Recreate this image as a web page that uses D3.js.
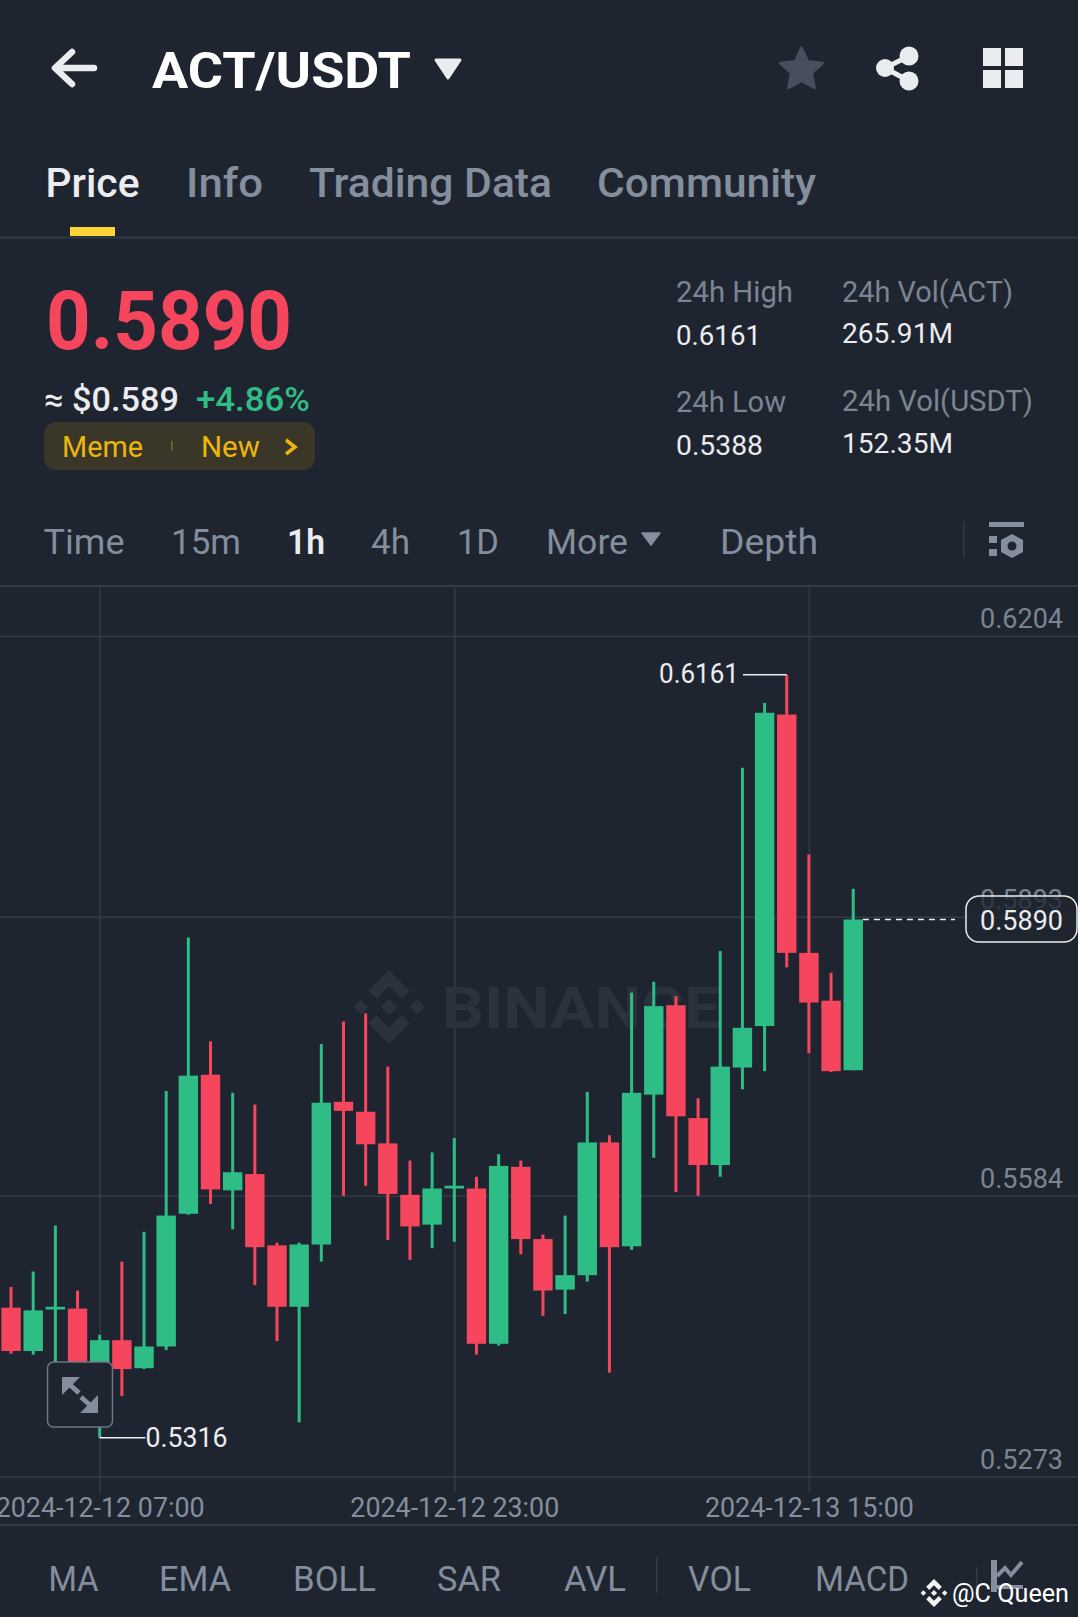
<!DOCTYPE html>
<html>
<head>
<meta charset="utf-8">
<title>ACT/USDT</title>
<script src="https://cdn.jsdelivr.net/npm/d3@7/dist/d3.min.js"></script>
<style>
html,body{margin:0;padding:0;background:#1f2530;}
svg{display:block;}
text{font-family:Roboto,"Noto Sans",sans-serif;}
</style>
</head>
<body>
<div id="chart"></div>
<script>
// 1h candles, first one is 2024-12-12 03:00
var startTime = "2024-12-12T03:00:00Z";
var opens  = [.5460,.5412,.5458,.5459,.5396,.5424,.5393,.5417,.5564,.5718,.5590,.5608,.5529,.5461,.5530,.5688,.5677,.5642,.5585,.5552,.5592,.5592,.5420,.5616,.5536,.5480,.5496,.5643,.5528,.5696,.5795,.5670,.5618,.5726,.5772,.6117,.5853,.5800,.5723];
var highs  = [.5483,.5500,.5551,.5479,.5430,.5511,.5544,.5700,.5870,.5755,.5698,.5685,.5532,.5532,.5752,.5777,.5786,.5727,.5623,.5632,.5648,.5605,.5630,.5623,.5541,.5562,.5699,.5651,.5809,.5821,.5805,.5692,.5855,.6058,.6130,.6161,.5962,.5831,.5924];
var lows   = [.5409,.5408,.5395,.5385,.5316,.5362,.5392,.5413,.5563,.5575,.5547,.5485,.5423,.5333,.5511,.5584,.5595,.5535,.5513,.5526,.5533,.5408,.5418,.5519,.5451,.5453,.5489,.5388,.5524,.5626,.5588,.5584,.5605,.5702,.5722,.5837,.5742,.5721,.5723];
var closes = [.5412,.5457,.5461,.5396,.5424,.5392,.5417,.5562,.5717,.5591,.5610,.5527,.5461,.5530,.5687,.5678,.5641,.5586,.5550,.5592,.5595,.5420,.5617,.5536,.5479,.5496,.5643,.5527,.5698,.5794,.5672,.5618,.5727,.5770,.6119,.5853,.5798,.5722,.5890];

var priceTicks = [.6204,.5893,.5584,.5273];
var dateTicks = ["2024-12-12T07:00:00Z","2024-12-12T23:00:00Z","2024-12-13T15:00:00Z"];
var tabs = ["Price","Info","Trading Data","Community"];
var intervals = ["Time","15m","1h","4h","1D","More","Depth"];
var indicators = ["MA","EMA","BOLL","SAR","AVL","VOL","MACD"];

var lastPrice = .5890, highPrice = .6161, lowPrice = .5316;

var width = 1078, height = 1617;
var bg = "#1f2530", red = "#f6465d", green = "#2ebd85",
    grey = "#848e9c", dim = "#7b8491", white = "#eaecef", line = "#333a46", gold = "#ecb50f";

var svg = d3.select("#chart").append("svg")
    .attr("width",width)
    .attr("height",height);
svg.append("rect").attr("width",width).attr("height",height).attr("fill",bg);

function label(s,x,y,size,color,weight,len,anchor){
    var t = svg.append("text")
        .attr("x",x).attr("y",y)
        .attr("font-size",size)
        .attr("fill",color)
        .attr("font-weight",weight||400)
        .attr("text-anchor",anchor||"start")
        .text(s);
    if(len){
        t.attr("textLength",len).attr("lengthAdjust","spacingAndGlyphs");
    }
    return t;
}

// header
svg.append("path")
    .attr("d","M94,68H56M72,52L55,68L72,84")
    .attr("fill","none").attr("stroke",white).attr("stroke-width",6.5)
    .attr("stroke-linecap","round").attr("stroke-linejoin","round");
label("ACT/USDT",152,88,50,"#fff",700,259);
svg.append("path").attr("d","M436,60H460L448,78Z").attr("fill",white)
    .attr("stroke",white).attr("stroke-width",3).attr("stroke-linejoin","round");

var star = d3.range(10).map(function(i){
    var r = i%2 ? 10.5 : 22, a = i*Math.PI/5;
    return [801.5+r*Math.sin(a),70-r*Math.cos(a)];
});
svg.append("polygon").attr("points",star.join(" ")).attr("fill","#474f5e")
    .attr("stroke","#474f5e").attr("stroke-width",3).attr("stroke-linejoin","round");

svg.append("path").attr("d","M909,56L885,68L909,81").attr("fill","none")
    .attr("stroke",white).attr("stroke-width",5);
[[909,56,9.5],[885,68,9],[909,81,9.5]].forEach(function(c){
    svg.append("circle").attr("cx",c[0]).attr("cy",c[1]).attr("r",c[2]).attr("fill",white);
});
[[983,48],[1005,48],[983,70],[1005,70]].forEach(function(c){
    svg.append("rect").attr("x",c[0]).attr("y",c[1]).attr("width",18).attr("height",18).attr("fill",white);
});

// tabs
var tabX = [45.5,186,309,597], tabLen = [94,77,243,219];
tabs.forEach(function(s,i){
    label(s,tabX[i],196.5,40,i==0?white:grey,500,tabLen[i]);
});
svg.append("rect").attr("x",70).attr("y",227).attr("width",45).attr("height",9).attr("fill","#fcd535");
svg.append("rect").attr("x",0).attr("y",236.5).attr("width",width).attr("height",2).attr("fill",line);

// price block
label(d3.format(".4f")(lastPrice),46,349,82,red,700,246);
label("≈ $0.589",44,411,33,white,500,135);
label("+4.86%",196,411,33,green,500,114);
svg.append("rect").attr("x",44).attr("y",422).attr("width",271).attr("height",48).attr("rx",12)
    .attr("fill","#3a3729");
label("Meme",62,457,29,gold,400,81);
svg.append("rect").attr("x",171).attr("y",441).attr("width",1.5).attr("height",10).attr("fill","#7a6a2a");
label("New",201,457,29,gold,400,59);
svg.append("path").attr("d","M286,440L295,447L286,454").attr("fill","none")
    .attr("stroke",gold).attr("stroke-width",3.5);

label("24h High",676,301.5,29,dim,400,117);
label("24h Vol(ACT)",842,301.5,29,dim,400,171);
label("0.6161",676,345,28,white,400,85);
label("265.91M",842,343,28,white,400,111);
label("24h Low",676,411.5,29,dim,400,110);
label("24h Vol(USDT)",842,410.5,29,dim,400,191);
label("0.5388",676,455,28,white,400,87);
label("152.35M",842,453,28,white,400,111);

// interval row
var intX = [43.5,171,287,371,457,546,720], intLen = [81,70,38,39,42,82,98];
intervals.forEach(function(s,i){
    label(s,intX[i],553.5,35,s=="1h"?white:grey,s=="1h"?600:400,intLen[i]);
});
svg.append("path").attr("d","M642,533H660L651,545Z").attr("fill",grey)
    .attr("stroke",grey).attr("stroke-width",1.5).attr("stroke-linejoin","round");
svg.append("rect").attr("x",963).attr("y",521).attr("width",1.5).attr("height",36).attr("fill",line);
svg.append("rect").attr("x",989).attr("y",522).attr("width",35).attr("height",5).attr("fill",grey);
svg.append("rect").attr("x",989).attr("y",536).attr("width",8).attr("height",7).attr("fill",grey);
svg.append("rect").attr("x",989).attr("y",549).attr("width",8).attr("height",7).attr("fill",grey);
svg.append("path").attr("d","M1012,534L1023,540V552L1012,558L1001,552V540Z").attr("fill",grey);
svg.append("circle").attr("cx",1012).attr("cy",546).attr("r",4.5).attr("fill",bg);

svg.append("rect").attr("x",0).attr("y",585).attr("width",width).attr("height",2).attr("fill",line);

// scales
var x = d3.scaleUtc()
    .domain([new Date(dateTicks[0]),new Date(dateTicks[2])])
    .range([99.7,808.9]);
var y = d3.scaleLinear()
    .domain([priceTicks[3],priceTicks[0]])
    .range([1476.5,636]);

var candles = opens.map(function(o,i){
    return {t:d3.utcHour.offset(new Date(startTime),i),o:o,h:highs[i],l:lows[i],c:closes[i]};
});

// x axis, ticks run all the way up the chart
var xAxis = svg.append("g")
    .attr("transform","translate(0,1493)")
    .call(d3.axisBottom(x)
        .tickValues(dateTicks.map(function(d){return new Date(d);}))
        .tickSize(-907)
        .tickFormat(d3.utcFormat("%Y-%m-%d %H:%M")));
xAxis.select(".domain").remove();
xAxis.selectAll("line").attr("stroke",line).attr("stroke-width",1.5);
xAxis.selectAll("text")
    .attr("y",23.5).attr("dy",0)
    .attr("font-size",27)
    .attr("fill",grey)
    .attr("textLength",209).attr("lengthAdjust","spacingAndGlyphs");

var yAxis = svg.append("g")
    .call(d3.axisRight(y)
        .tickValues(priceTicks)
        .tickSize(width)
        .tickFormat(d3.format(".4f")));
yAxis.select(".domain").remove();
yAxis.selectAll("line").attr("stroke",line).attr("stroke-width",1.5);
yAxis.selectAll("text")
    .attr("x",1063).attr("y",-8.5).attr("dy",0)
    .attr("text-anchor","end")
    .attr("font-size",27)
    .attr("fill",dim)
    .attr("textLength",83).attr("lengthAdjust","spacingAndGlyphs");

svg.append("rect").attr("x",0).attr("y",1524).attr("width",width).attr("height",2).attr("fill",line);

// watermark
function binanceLogo(cx,cy,s,color){
    var g = svg.append("g").attr("transform","translate("+cx+","+cy+") scale("+s+")").attr("fill",color);
    g.append("path").attr("d","M0,-1L.56,-.44L.34,-.22L0,-.56L-.34,-.22L-.56,-.44Z");
    g.append("path").attr("d","M0,1L.56,.44L.34,.22L0,.56L-.34,.22L-.56,.44Z");
    g.append("path").attr("d","M0,-.22L.22,0L0,.22L-.22,0Z");
    g.append("path").attr("d","M-.76,-.2L-.56,0L-.76,.2L-.96,0Z");
    g.append("path").attr("d","M.76,-.2L.96,0L.76,.2L.56,0Z");
}
binanceLogo(389,1007,37,"#2c323c");
label("BINANCE",442,1028,57,"#2c323c",700,279);

// candles
var marks = svg.append("g").selectAll("g").data(candles).enter().append("g");
var bodyW = 19.4;
function col(d){ return d.c>=d.o ? green : red; }
marks.append("rect")
    .attr("x",function(d){return x(d.t)-1.5;})
    .attr("y",function(d){return y(d.h);})
    .attr("width",3)
    .attr("height",function(d){return y(d.l)-y(d.h);})
    .attr("fill",col);
marks.append("rect")
    .attr("x",function(d){return x(d.t)-bodyW/2;})
    .attr("y",function(d){return y(Math.max(d.o,d.c));})
    .attr("width",bodyW)
    .attr("height",function(d){return Math.max(y(Math.min(d.o,d.c))-y(Math.max(d.o,d.c)),2);})
    .attr("fill",col);

// high / low markers
var hi = candles.filter(function(d){return d.h==highPrice;})[0];
var lo = candles.filter(function(d){return d.l==lowPrice;})[0];
svg.append("line").attr("x1",743).attr("x2",x(hi.t)).attr("y1",y(highPrice)).attr("y2",y(highPrice))
    .attr("stroke",white).attr("stroke-width",1.5);
label(d3.format(".4f")(highPrice),659,683,27,white,400,80);
svg.append("line").attr("x1",x(lo.t)).attr("x2",145.5).attr("y1",y(lowPrice)).attr("y2",y(lowPrice))
    .attr("stroke",white).attr("stroke-width",1.5);
label(d3.format(".4f")(lowPrice),145.5,1446.5,27,white,400,82);

// last price, the tag lets the axis label underneath show a little
var lastC = candles[candles.length-1];
svg.append("line")
    .attr("x1",x(lastC.t)+bodyW/2).attr("x2",955)
    .attr("y1",y(lastPrice)).attr("y2",y(lastPrice))
    .attr("stroke",white).attr("stroke-width",1.5).attr("stroke-dasharray","6 5");
svg.append("rect").attr("x",966).attr("y",896).attr("width",111).attr("height",46).attr("rx",13)
    .attr("fill",bg).attr("fill-opacity",.78).attr("stroke",white).attr("stroke-width",1.5);
label(d3.format(".4f")(lastPrice),1063,930,27,white,400,83,"end");

// expand button
svg.append("rect").attr("x",47.5).attr("y",1362).attr("width",65).attr("height",65).attr("rx",6)
    .attr("fill",bg).attr("stroke","#6e7683").attr("stroke-width",1.5);
svg.append("path").attr("d","M62,1377H80L62,1395Z").attr("fill",grey);
svg.append("path").attr("d","M98,1413H80L98,1395Z").attr("fill",grey);
svg.append("path").attr("d","M68,1383L79,1393M81,1397L92,1407").attr("stroke",grey).attr("stroke-width",5);

// bottom row
var indX = [48.5,159,293,437,564,688,815], indLen = [50,72,83,64,62,63,94];
indicators.forEach(function(s,i){
    label(s,indX[i],1591,35,grey,400,indLen[i]);
});
svg.append("rect").attr("x",656).attr("y",1557).attr("width",1.5).attr("height",36).attr("fill",line);
svg.append("rect").attr("x",976).attr("y",1567).attr("width",1.5).attr("height",24).attr("fill",line);
svg.append("rect").attr("x",991).attr("y",1560).attr("width",6).attr("height",32).attr("fill",grey);
svg.append("path").attr("d","M997,1587H1023M997,1576L1005,1568L1011,1575L1022,1562")
    .attr("fill","none").attr("stroke",grey).attr("stroke-width",4);

binanceLogo(934,1593,14,"#f2f2f2");
label("@C Queen",952,1602,26,"#fff",400,117);
</script>
</body>
</html>
